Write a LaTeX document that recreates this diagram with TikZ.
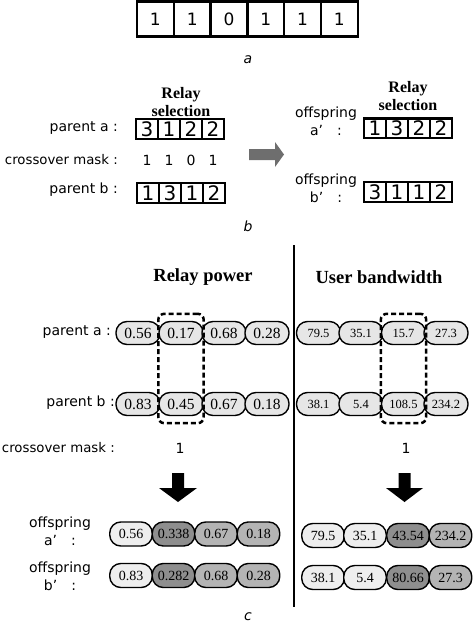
\documentclass[tikz,border=0pt]{standalone}
\usepackage{fontspec}
\setmainfont{Liberation Serif}
\newfontfamily\sansf{DejaVu Sans}
\usetikzlibrary{fit}
\definecolor{plight}{HTML}{E6E6E6}
\definecolor{olight}{HTML}{EEEEEE}
\definecolor{omid}{HTML}{B4B4B4}
\definecolor{odark}{HTML}{8E8E8E}
\definecolor{arrgray}{HTML}{6E6E6E}
\tikzset{
  lab/.style={font=\sansf\fontsize{14}{16}\selectfont, anchor=east, inner sep=0pt},
  cmlab/.style={lab, font=\sansf\fontsize{13.3}{16}\selectfont},
  olab/.style={font=\sansf\fontsize{14}{18}\selectfont, align=center, inner sep=0pt},
  abox/.style={draw, line width=2.5pt, minimum width=36.8pt, minimum height=35pt, inner sep=0pt, font=\sansf\fontsize{17}{17}\selectfont},
  bbox/.style={draw, line width=2pt, minimum width=22pt, minimum height=20pt, inner sep=0pt, font=\sansf\fontsize{20}{20}\selectfont},
  pill/.style={draw, line width=1.4pt, rounded corners=11pt, minimum width=44pt, minimum height=23pt, inner sep=0pt, fill=plight, font=\fontsize{15.5}{15}\selectfont},
  rpill/.style={pill, font=\fontsize{12.5}{12}\selectfont},
  opill/.style={pill, minimum width=42.5pt, minimum height=24pt, font=\fontsize{14}{13}\selectfont},
  head/.style={font=\bfseries\fontsize{16}{18}\selectfont, align=center, inner sep=0pt},
  title/.style={font=\bfseries\fontsize{18.5}{20}\selectfont, inner sep=0pt},
  captxt/.style={font=\sansf\itshape\fontsize{14}{14}\selectfont, inner sep=0pt},
  mask/.style={font=\sansf\fontsize{14}{16}\selectfont, inner sep=0pt},
  dashbox/.style={draw, line width=2.5pt, dash pattern=on 5pt off 3pt, rounded corners=6pt, inner xsep=0pt, inner ysep=7pt}
}
\begin{document}
\begin{tikzpicture}[x=1pt,y=-1pt]
\useasboundingbox (0,0) rectangle (474,623);
% ---------- part a
\foreach \v [count=\i] in {1,1,0,1,1,1}
  \node[abox] (a\i) at ({137+36.8*(\i-0.5)},19) {\v};
\node[captxt] (capa) at (248,60) {a};
% ---------- part b
\node[head] (rs1) at (181,102) {Relay\\selection};
\node[lab] (bpa) at (118,128) {parent a :};
\foreach \v [count=\i] in {3,1,2,2}
  \node[bbox] (ba\i) at ({136+22*(\i-0.5)},129) {\v};
\node[cmlab] (bcm) at (118,160) {crossover mask :};
\foreach \v [count=\i] in {1,1,0,1}
  \node[mask] (bm\i) at ({136+22*(\i-0.5)},160) {\v};
\node[lab] (bpb) at (118,190) {parent b :};
\foreach \v [count=\i] in {1,3,1,2}
  \node[bbox] (bb\i) at ({137+22*(\i-0.5)},193) {\v};
\fill[arrgray] (249,149) -- (275,149) -- (275,142) -- (284,154.5) -- (275,167) -- (275,160) -- (249,160) -- cycle;
\node[head] (rs2) at (408,96) {Relay\\selection};
\node[olab] (boa) at (326,121) {offspring\\a’\quad:};
\foreach \v [count=\i] in {1,3,2,2}
  \node[bbox, minimum height=19pt] (boa\i) at ({364+22*(\i-0.5)},128) {\v};
\node[olab] (bob) at (326,188) {offspring\\b’\quad:};
\foreach \v [count=\i] in {3,1,1,2}
  \node[bbox] (bob\i) at ({364+22*(\i-0.5)},192) {\v};
\node[captxt] (capb) at (248,226) {b};
% ---------- part c
\draw[line width=1.8pt] (294,245) coordinate (vt) -- (294,607) coordinate (vb);
\node[title] (t1) at (203,277) {Relay power};
\node[title] (t2) at (379,277) {User bandwidth};
\node[lab] (cpa) at (111,332) {parent a :};
\node[lab] (cpb) at (115,403) {parent b :};
\node[cmlab] (ccm) at (115,448) {crossover mask :};
\node[mask] (cm1) at (180,448) {1};
\node[mask] (cm2) at (406,448) {1};
% left parents
\foreach \v [count=\i] in {0.56,0.17,0.68,0.28}
  \node[pill] (lpa\i) at ({138+43*(\i-1)},333) {\v};
\foreach \v [count=\i] in {0.83,0.45,0.67,0.18}
  \node[pill] (lpb\i) at ({138+43*(\i-1)},404) {\v};
% right parents
\foreach \v [count=\i] in {79.5,35.1,15.7,27.3}
  \node[rpill] (rpa\i) at ({318.5+42.5*(\i-1)},333) {\v};
\foreach \v [count=\i] in {38.1,5.4,108.5,234.2}
  \node[rpill] (rpb\i) at ({318.5+42.5*(\i-1)},404) {\v};
\node[dashbox, fit=(lpa2)(lpb2)] (dl) {};
\node[dashbox, fit=(rpa3)(rpb3)] (dr) {};
% black arrows
\fill[black] (172,473) -- (184,473) -- (184,488) -- (197,488) -- (178,502) -- (159,488) -- (172,488) -- cycle;
\fill[black] (398.5,473) -- (410.5,473) -- (410.5,488) -- (423,488) -- (404.5,502) -- (386,488) -- (398.5,488) -- cycle;
% offspring labels
\node[olab] (coa) at (60,531) {offspring\\a’\quad:};
\node[olab] (cob) at (60,576) {offspring\\b’\quad:};
% left offspring
\node[opill, fill=olight] (loa1) at (131,534) {0.56};
\node[opill, fill=odark] (loa2) at (173.5,534) {0.338};
\node[opill, fill=omid] (loa3) at (216,534) {0.67};
\node[opill, fill=omid] (loa4) at (258.5,534) {0.18};
\node[opill, fill=olight] (lob1) at (131,575.5) {0.83};
\node[opill, fill=odark] (lob2) at (173.5,575.5) {0.282};
\node[opill, fill=omid] (lob3) at (216,575.5) {0.68};
\node[opill, fill=omid] (lob4) at (258.5,575.5) {0.28};
% right offspring
\node[opill, fill=olight] (roa1) at (323,535.5) {79.5};
\node[opill, fill=olight] (roa2) at (365,535.5) {35.1};
\node[opill, fill=odark] (roa3) at (408,535.5) {43.54};
\node[opill, fill=omid] (roa4) at (450.5,535.5) {234.2};
\node[opill, fill=olight] (rob1) at (323,577.5) {38.1};
\node[opill, fill=olight] (rob2) at (365,577.5) {5.4};
\node[opill, fill=odark] (rob3) at (408,577.5) {80.66};
\node[opill, fill=omid] (rob4) at (450.5,577.5) {27.3};
\node[captxt] (capc) at (248,617) {c};
\end{tikzpicture}
\end{document}
